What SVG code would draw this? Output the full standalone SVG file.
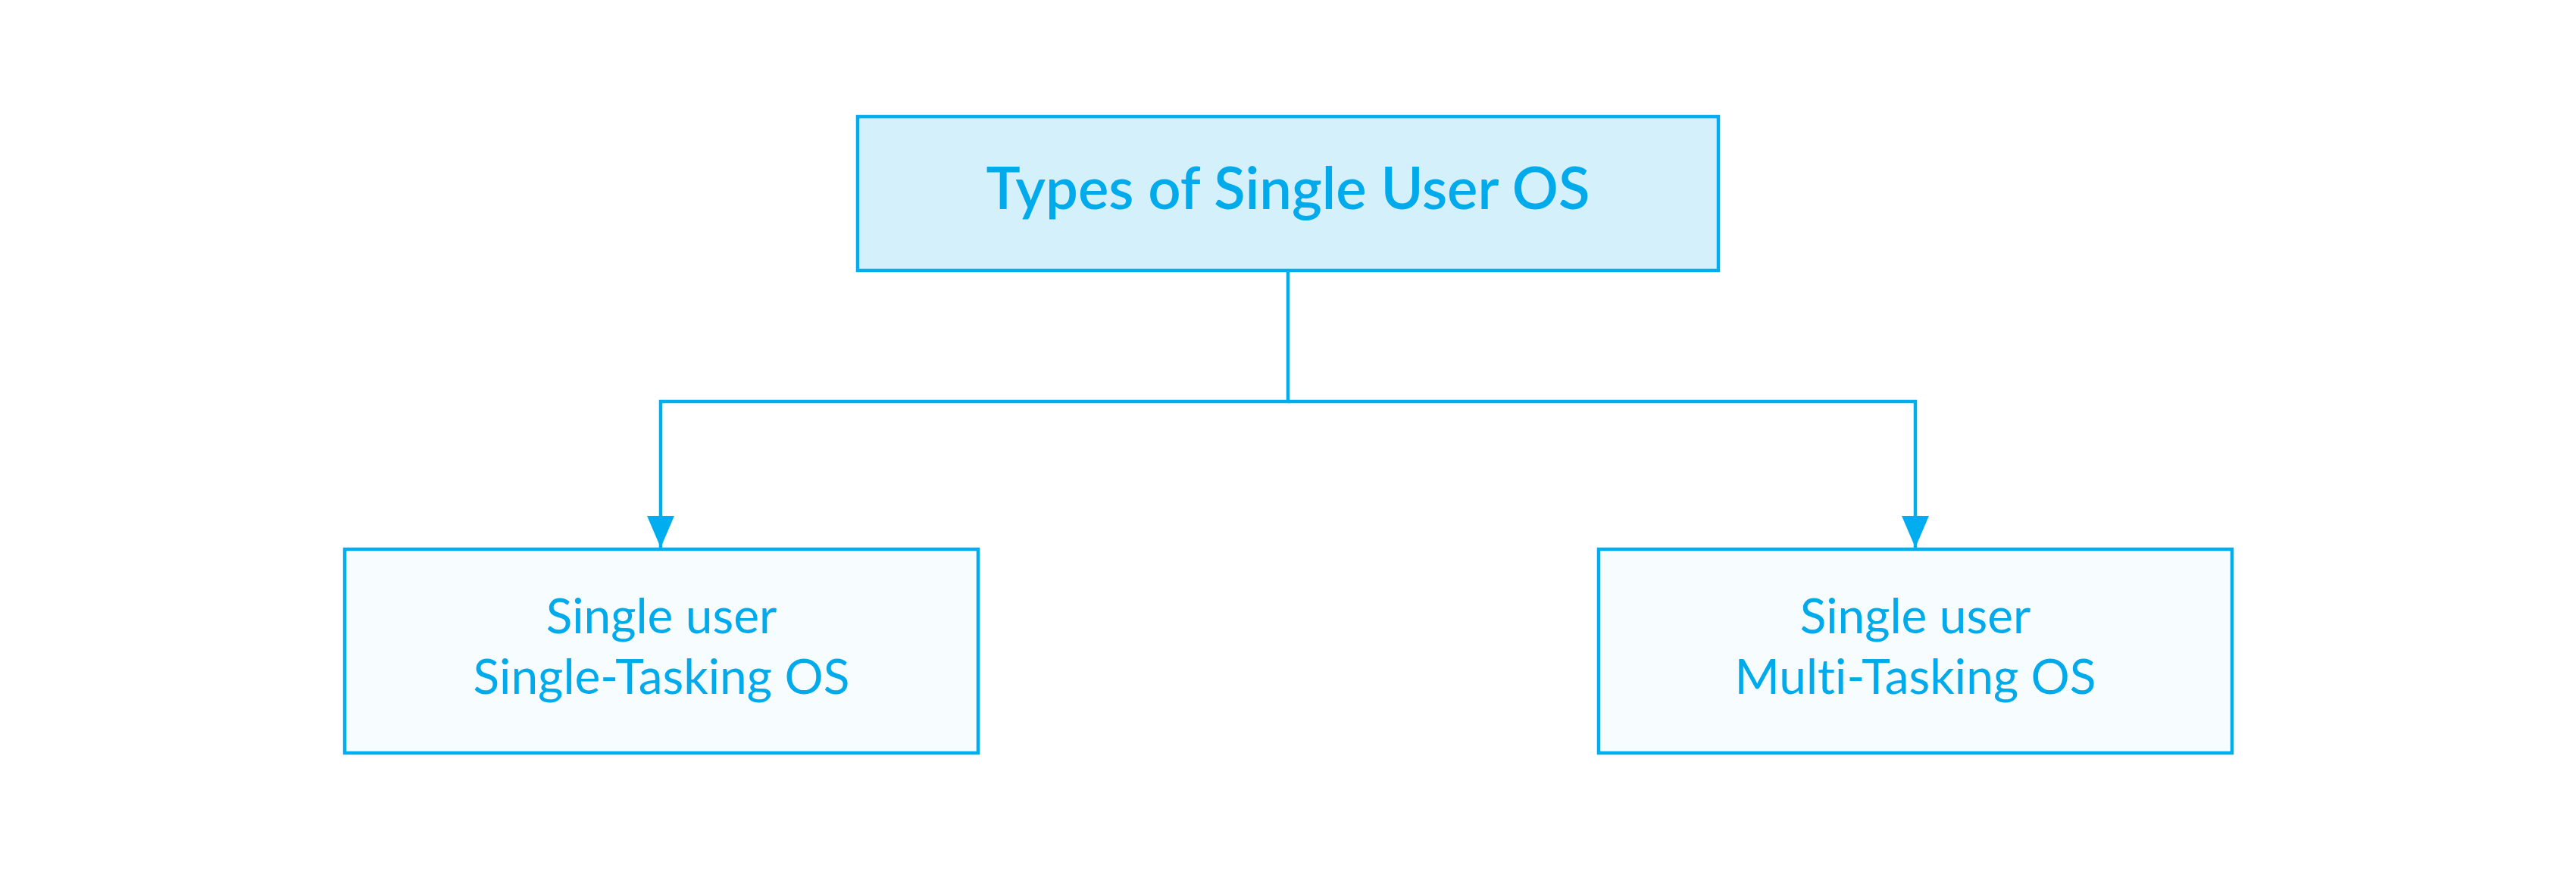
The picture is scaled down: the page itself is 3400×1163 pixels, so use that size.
<svg xmlns="http://www.w3.org/2000/svg" width="3400" height="1163" viewBox="0 0 3400 1163">
<style>
.box{stroke:#00AEEF;stroke-width:4.5}
.top{fill:#D4F0FB}
.leaf{fill:#F7FCFE}
.t{font-family:Lato,"Open Sans","Liberation Sans",sans-serif;fill:#00AAEB;text-anchor:middle;font-variant-ligatures:none;font-feature-settings:"liga" 0,"clig" 0}
.tt{font-size:76px;font-weight:600}
.lt{font-size:64px;font-weight:400}
.c{fill:none;stroke:#00AEEF;stroke-width:4.5}
</style>
<defs>
<marker id="ah" markerUnits="userSpaceOnUse" markerWidth="42" markerHeight="36" refX="42" refY="18" orient="auto" viewBox="0 0 42 36">
<path d="M0,0 L42,18 L0,36 Z" fill="#00AEEF"/>
</marker>
</defs>
<rect width="3400" height="1163" fill="#FFFFFF"/>
<g id="connectors">
<path class="c" d="M1700,357 V530 H872 V723" marker-end="url(#ah)"/>
<path class="c" d="M1700,530 H2528 V723" marker-end="url(#ah)"/>
</g>
<g id="node-root">
<rect class="box top" x="1132" y="154" width="1136" height="203"/>
<text class="t tt" x="1700" y="276">Types of Single User OS</text>
</g>
<g id="node-single-tasking">
<rect class="box leaf" x="455" y="725" width="836" height="269"/>
<text class="t lt" x="873" y="836">Single user</text>
<text class="t lt" x="873" y="916">Single-Tasking OS</text>
</g>
<g id="node-multi-tasking">
<rect class="box leaf" x="2110" y="725" width="836" height="269"/>
<text class="t lt" x="2528" y="836">Single user</text>
<text class="t lt" x="2528" y="916">Multi-Tasking OS</text>
</g>
</svg>
